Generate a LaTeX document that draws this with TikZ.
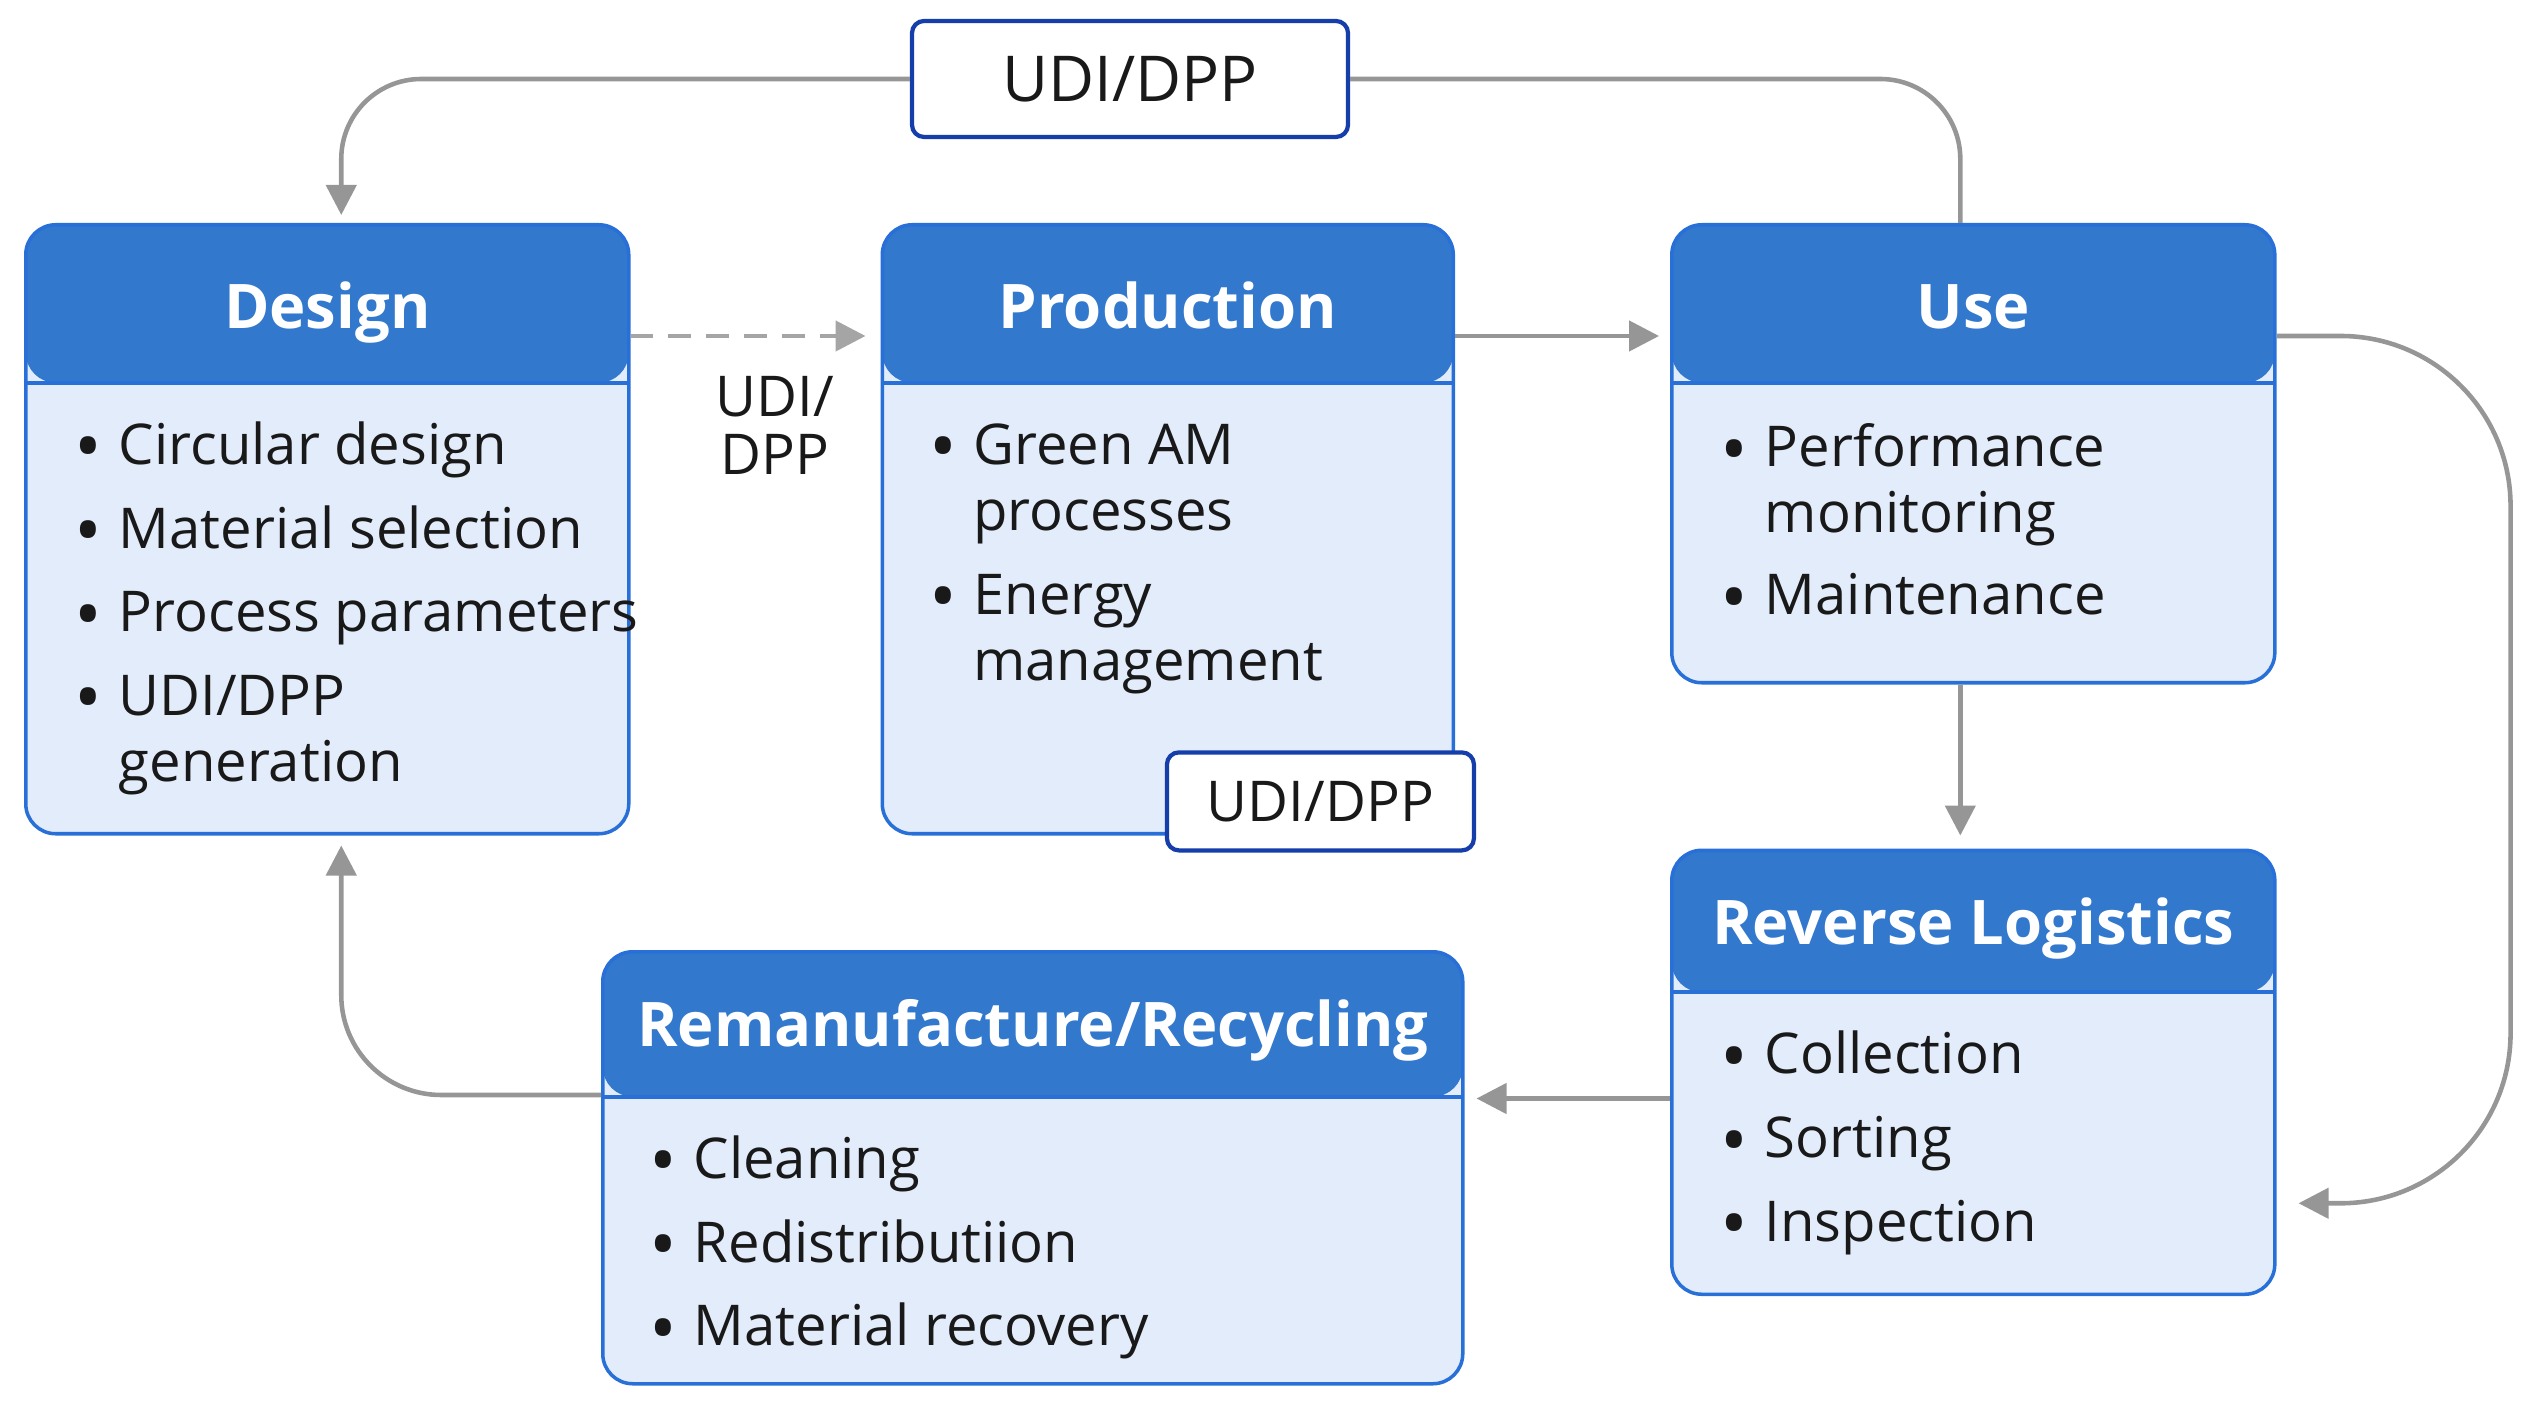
\documentclass[tikz,border=0pt]{standalone}
\usepackage{fontspec}
\setmainfont{Open Sans}
\usetikzlibrary{arrows.meta, positioning, calc}

\definecolor{headblue}{RGB}{50,120,205}
\definecolor{bodyblue}{RGB}{226,236,250}
\definecolor{boxblue}{RGB}{40,112,215}
\definecolor{tagblue}{RGB}{22,62,170}
\definecolor{arrowgray}{RGB}{150,150,150}
\definecolor{dashgray}{RGB}{165,165,165}
\definecolor{textblack}{RGB}{25,25,25}

\newcommand{\bl}{\makebox[0.44cm][l]{\raisebox{-2.4pt}{\fontsize{21}{0}\selectfont\textbullet}}}
\newcommand{\blind}{\hspace*{0.44cm}}

\begin{document}
\begin{tikzpicture}[
    font=\fontsize{16}{18.8}\selectfont,
    node distance=1.64cm and 2.2cm,
    stage/.style={draw=boxblue, line width=1pt, fill=bodyblue, rounded corners=0.3cm, anchor=north west,
        path picture={\fill[headblue] (path picture bounding box.north west) rectangle ([yshift=-#1]path picture bounding box.north east);
                      \draw[boxblue, line width=1.2pt] ([yshift=-#1]path picture bounding box.north west) -- ([yshift=-#1]path picture bounding box.north east);}},
    title/.style={anchor=base, text=white, font=\fontsize{17.5}{20}\selectfont\bfseries},
    items/.style={anchor=north west, inner sep=0pt, align=left, text=textblack},
    tag/.style={draw=tagblue, line width=1.2pt, fill=white, rounded corners=0.12cm, text=textblack},
    arrow/.style={-{Triangle[length=0.3cm, width=0.3cm]}, line width=1.3pt, draw=arrowgray},
    link/.style={line width=1.3pt, draw=arrowgray},
    dasharrow/.style={arrow, draw=dashgray, dash pattern=on 6.5pt off 4.3pt}
]
\useasboundingbox (0,0) rectangle (25.32,-14.04);

% Row 1: Design, Production, Use
\node[stage=1.58cm, minimum width=6.03cm, minimum height=6.09cm] (design) at (0.24,-2.23) {};
\node[stage=1.58cm, minimum width=5.71cm, minimum height=6.09cm, right=2.5cm of design.north east, anchor=north west] (production) {};
\node[stage=1.58cm, minimum width=6.03cm, minimum height=4.58cm, right=2.15cm of production.north east, anchor=north west] (use) {};

% Row 2: Reverse Logistics, Remanufacture/Recycling
\node[stage=1.42cm, minimum width=6.03cm, minimum height=4.44cm, below=1.64cm of use.south west, anchor=north west] (reverse) {};
\node[stage=1.45cm, minimum width=8.60cm, minimum height=4.32cm] (reman) at (6.01,-9.50) {};

% Titles
\node[title] (design-t) at ([yshift=-1.06cm]design.north) {Design};
\node[title] (production-t) at ([yshift=-1.06cm]production.north) {Production};
\node[title] (use-t) at ([yshift=-1.06cm]use.north) {Use};
\node[title] (reverse-t) at ([yshift=-0.96cm]reverse.north) {Reverse Logistics};
\node[title] (reman-t) at ([yshift=-0.96cm]reman.north) {Remanufacture/Recycling};

% Bullet lists
\node[items] (design-l) at ([shift={(0.5,-1.98)}]design.north west)
    {\bl Circular design\\[5pt] \bl Material selection\\[5pt] \bl Process parameters\\[5pt] \bl UDI/DPP\\ \blind generation};
\node[items] (production-l) at ([shift={(0.48,-2.0)}]production.north west)
    {\bl Green AM\\ \blind processes\\[5pt] \bl Energy\\ \blind management};
\node[items] (use-l) at ([shift={(0.5,-2.0)}]use.north west)
    {\bl Performance\\ \blind monitoring\\[4.5pt] \bl Maintenance};
\node[items] (reverse-l) at ([shift={(0.5,-1.82)}]reverse.north west)
    {\bl Collection\\[5pt] \bl Sorting\\[5pt] \bl Inspection};
\node[items] (reman-l) at ([shift={(0.48,-1.85)}]reman.north west)
    {\bl Cleaning\\[5pt] \bl Redistributiion\\[5pt] \bl Material recovery};

% UDI/DPP tags
\node[tag, minimum width=4.36cm, minimum height=1.16cm, font=\fontsize{18}{20}\selectfont] (udi-top) at (11.30,-0.79) {UDI/DPP};
\node[tag, minimum width=3.07cm, minimum height=0.98cm, anchor=south east] (udi-prod) at ([shift={(0.21,-0.17)}]production.south east) {UDI/DPP};
\node[align=center, text=textblack, font=\fontsize{16}{16.5}\selectfont] (udi-mid) at (7.75,-4.25) {UDI/\\DPP};

\coordinate (reverse-in) at ([shift={(0.22,-1.31)}]reverse.east);

% Connections
\draw[dasharrow, shorten >=0.15cm] ([yshift=-1.13cm]design.north east) -- ([yshift=-1.13cm]production.north west);
\draw[arrow, shorten >=0.11cm] ([yshift=-1.13cm]production.north east) -- ([yshift=-1.13cm]use.north west);
\draw[arrow, shorten >=0.13cm] ([xshift=-0.13cm]use.south) -- ([xshift=-0.13cm]reverse.north);
\draw[arrow, shorten >=0.12cm] ([yshift=-2.5cm]reverse.north west) -- ([yshift=-2.5cm]reverse.north west -| reman.east);
\draw[arrow, rounded corners=1.7cm] ([yshift=-1.13cm]use.north east) -| ([xshift=2.34cm]use.east |- reverse-in) -- (reverse-in);
\draw[arrow, rounded corners=1cm, shorten >=0.1cm] ([yshift=-1.45cm]reman.north west) -| ([xshift=0.14cm]design.south);
\draw[arrow, rounded corners=0.8cm, shorten >=0.08cm] (udi-top.west) -| ([xshift=0.14cm]design.north);
\draw[link, rounded corners=0.8cm] (udi-top.east) -| ([xshift=-0.13cm]use.north);

\end{tikzpicture}
\end{document}
